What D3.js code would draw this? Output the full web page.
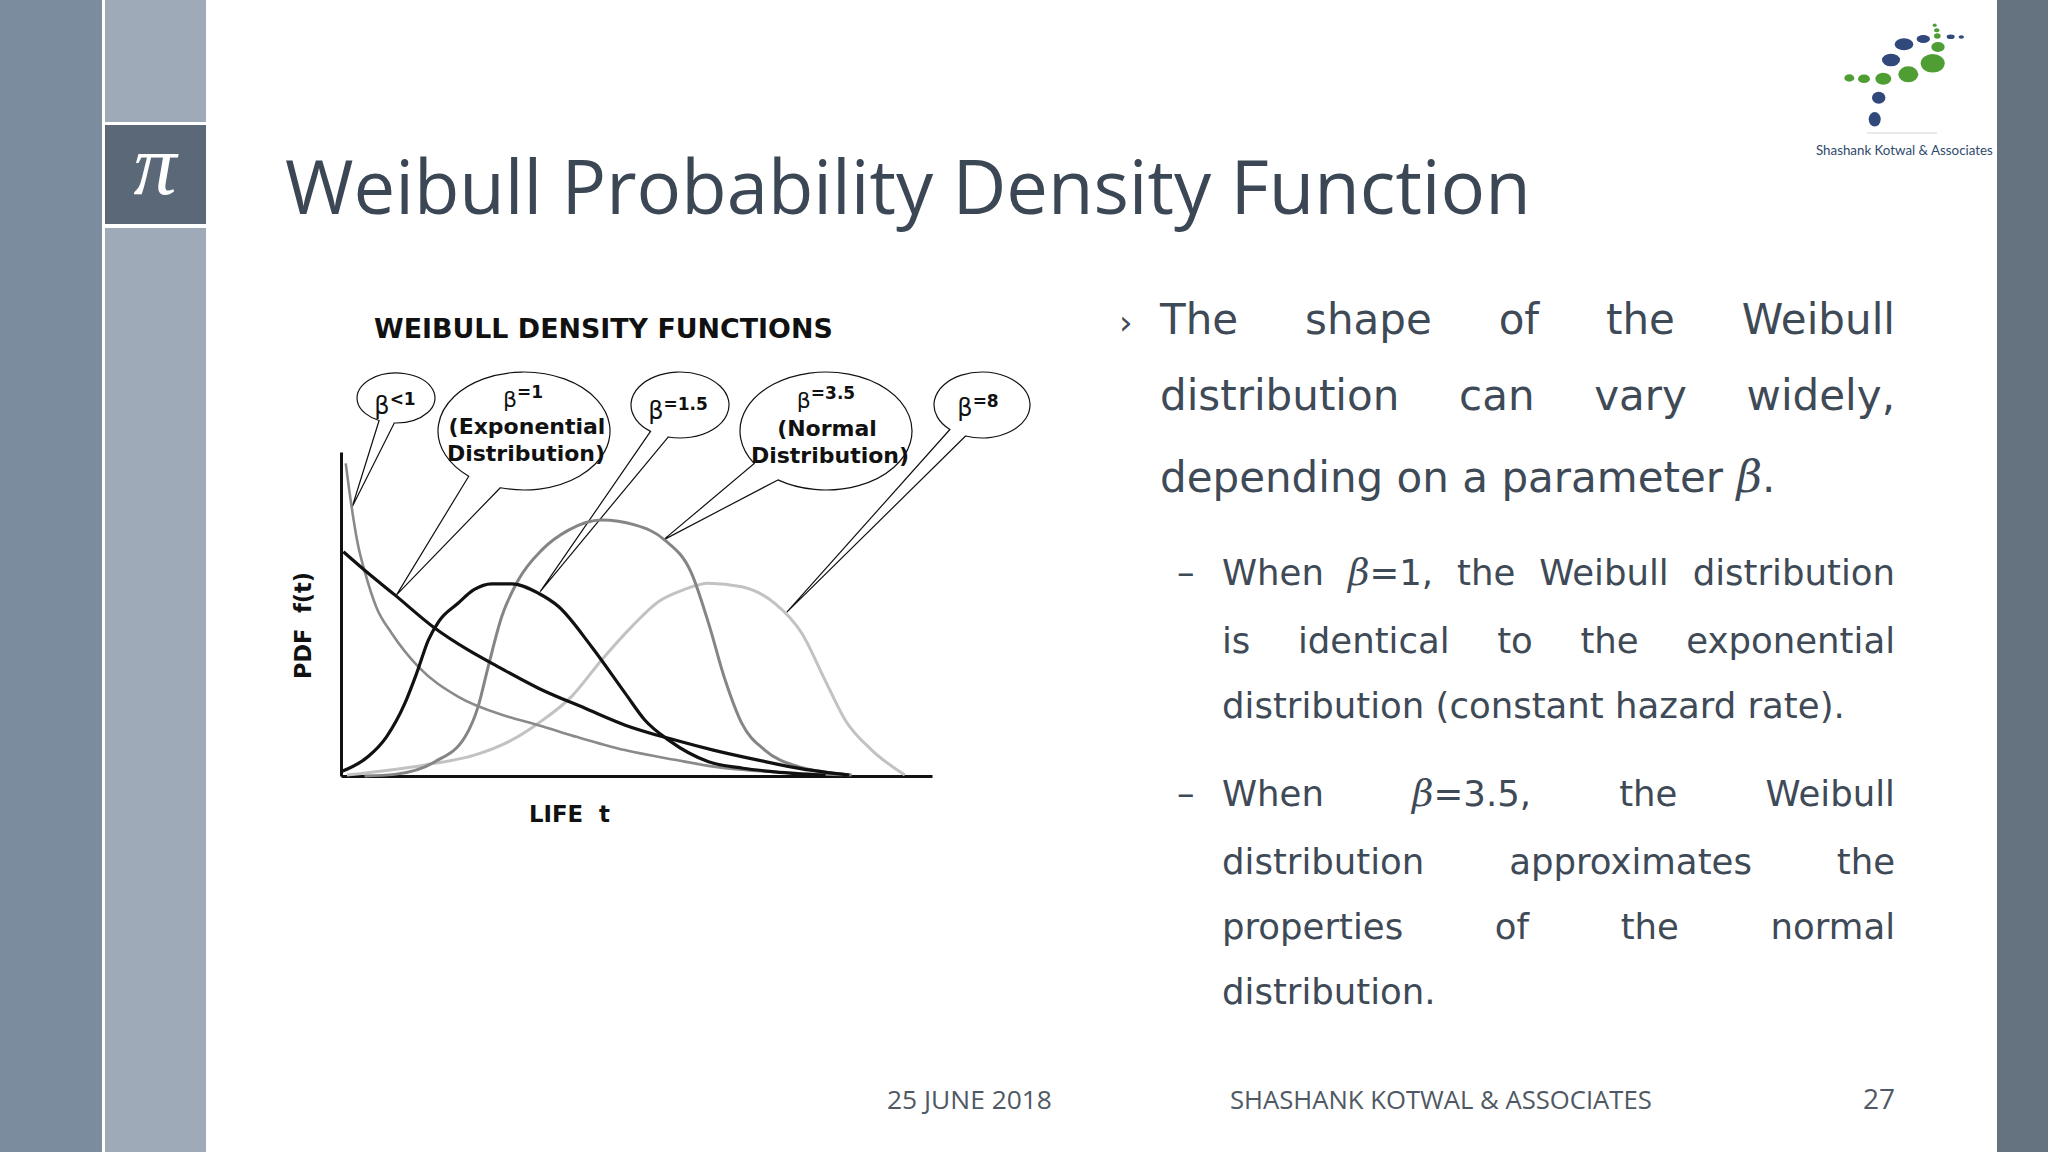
<!DOCTYPE html>
<html>
<head>
<meta charset="utf-8">
<script src="https://cdn.jsdelivr.net/npm/d3@7"></script>
<style>
  body { margin: 0; background: #fff; }
  svg { display: block; }
</style>
</head>
<body>
<div id="slide"></div>
<script>
// curves, [life t, pdf f(t)] on a 0..100 grid
const betaLt1 = [[0.8,96.5],[1.8,83],[2.8,72],[4.1,62.6],[6,52],[8.6,44],[13.1,33.7],[19.8,24.5],[28.3,18.3],[33.4,15.7],[40,12],[48,8],[56.5,5],[65,2.4],[75,1.1],[85,0.3]];
const beta1 = [[0.4,69.2],[4,63.5],[9.1,55.9],[15.9,45.6],[21.5,38.9],[26.6,33.7],[33.4,27.1],[41.3,20.9],[48.1,15.7],[56.5,11.1],[63,8],[70.6,4.9],[78,2.2],[86,0.3]];
const beta15 = [[0,1.3],[4.6,6],[7.7,12.1],[10.8,22.4],[12.8,31.7],[14.8,42],[16.5,47.6],[19.8,53.3],[22.5,57.5],[25.5,59.3],[28.9,59.3],[33.4,56.4],[36.8,52.3],[42.4,39.9],[48.1,25.5],[51.4,17.3],[55.5,11],[62.2,4.4],[68,2.4],[73.4,1.3],[82,0.2]];
const beta35 = [[4,0],[9.1,0.5],[15.9,4.4],[21,12.1],[23.2,21.4],[24.9,33.7],[27.2,49.2],[30,60.5],[34,69.8],[38.5,75.9],[44.1,79],[49.7,77.5],[54.8,72.8],[59.3,62.6],[62.2,47.1],[65,29.6],[67.8,16.3],[71.7,8],[77.4,2.9],[86.4,0.3]];
const beta8 = [[1,0.3],[14.2,3.4],[22.7,6.5],[28.9,11.1],[33.4,16.3],[39,24.5],[44.1,35.8],[49.2,46.1],[53.7,53.8],[58,57.5],[62.2,59.5],[67.8,58.4],[73.4,53.3],[78,44],[81.9,29.6],[85.3,17.3],[89.8,8],[95.4,0.3]];

const curveLabels = ["β<1", "β=1", "β=1.5", "β=3.5", "β=8"];
// where each callout points to, [life t, pdf f(t)]
const calloutTips = [[1.9,83.1],[9.4,55.9],[33.7,56.9],[54.5,72.8],[75.4,50.5]];

const bulletMain = [
  "The shape of the Weibull",
  "distribution can vary widely,",
  "depending on a parameter β."
];
const bulletSub1 = [
  "When β=1, the Weibull distribution",
  "is identical to the exponential",
  "distribution (constant hazard rate)."
];
const bulletSub2 = [
  "When β=3.5, the Weibull",
  "distribution approximates the",
  "properties of the normal",
  "distribution."
];

const W = 2048, H = 1152;
const svg = d3.select("#slide").append("svg").attr("width", W).attr("height", H);

// ---- slide frame
svg.append("rect").attr("x", 0).attr("y", 0).attr("width", 102).attr("height", H).attr("fill", "#7b8c9e");
svg.append("rect").attr("x", 105).attr("y", 0).attr("width", 101).attr("height", H).attr("fill", "#9eaab7");
svg.append("rect").attr("x", 105).attr("y", 122).attr("width", 101).attr("height", 106).attr("fill", "#fff");
svg.append("rect").attr("x", 105).attr("y", 125).attr("width", 101).attr("height", 99).attr("fill", "#5b6877");
svg.append("text").attr("x", 155).attr("y", 194).attr("text-anchor", "middle")
  .attr("font-family", "Liberation Serif").attr("font-style", "italic")
  .attr("font-size", 86).attr("fill", "#fff").text("π");
svg.append("rect").attr("x", 1997).attr("y", 0).attr("width", 51).attr("height", H).attr("fill", "#65727f");

function fitText(sel, width) {
  const w = sel.node().getComputedTextLength();
  const fs = +sel.attr("font-size");
  sel.attr("font-size", fs * width / w);
  return sel;
}

// ---- title
fitText(svg.append("text").attr("x", 285).attr("y", 214)
  .attr("font-family", "Open Sans").attr("font-weight", 400)
  .attr("font-size", 86).attr("fill", "#3b4754")
  .text("Weibull Probability Density Function"), 1246);

// ---- logo
const logoNavy = "#30497a", logoGreen = "#4f9e34";
const logoDots = [
  [1904,44.3,9.3,6,logoNavy],[1923.3,39,6.7,4,logoNavy],[1950.7,36.7,4,2.3,logoNavy],[1961.3,37,2.7,1.7,logoNavy],
  [1891,60,9,6.3,logoNavy],[1878.7,97.7,6.7,6,logoNavy],[1874.7,119.3,6,7.3,logoNavy],
  [1934.7,25.3,2,1.7,logoGreen],[1936.7,30.3,2.7,2,logoGreen],[1937.3,36,3.3,2.7,logoGreen],[1938,47,6.7,5,logoGreen],
  [1932.7,63.3,12,9.3,logoGreen],[1908.3,74.3,10,8,logoGreen],[1883.3,78.7,8,6,logoGreen],[1864,78.7,6,4.3,logoGreen],[1849.3,78,5,3.7,logoGreen]
];
svg.append("g").selectAll("ellipse").data(logoDots).join("ellipse")
  .attr("cx", d => d[0]).attr("cy", d => d[1]).attr("rx", d => d[2]).attr("ry", d => d[3]).attr("fill", d => d[4]);
svg.append("line").attr("x1", 1867).attr("x2", 1937).attr("y1", 133).attr("y2", 133).attr("stroke", "#e2e2e2").attr("stroke-width", 1.5);
fitText(svg.append("text").attr("x", 1816).attr("y", 155)
  .attr("font-family", "Lato").attr("font-size", 14).attr("fill", "#2f4a6b")
  .text("Shashank Kotwal & Associates"), 177);

// ---- chart
const x = d3.scaleLinear().domain([0, 100]).range([341, 932]);
const y = d3.scaleLinear().domain([0, 100]).range([776, 452]);
const chart = svg.append("g").attr("class", "chart");

fitText(chart.append("text").attr("x", 374).attr("y", 338)
  .attr("font-family", "DejaVu Sans").attr("font-weight", "bold")
  .attr("font-size", 27).attr("fill", "#111")
  .text("WEIBULL DENSITY FUNCTIONS"), 459);

// callout bubbles (geometry in px), pointing at calloutTips
const bubbles = [
  { cx: 396, cy: 398, rx: 39, ry: 25, a1: 92.5, a2: 115.7,
    lines: [{ beta: true, sup: "<1", x: 395, y: 414 }] },
  { cx: 524, cy: 431, rx: 86, ry: 59, a1: 106, a2: 130,
    lines: [{ beta: true, sup: "=1", x: 523, y: 407 }, { txt: "(Exponential", x: 527, y: 434 }, { txt: "Distribution)", x: 526, y: 461 }] },
  { cx: 680, cy: 405, rx: 49, ry: 33, a1: 104, a2: 127,
    lines: [{ beta: true, sup: "=1.5", x: 678, y: 419 }] },
  { cx: 826, cy: 431, rx: 86, ry: 59, a1: 124, a2: 146.5,
    lines: [{ beta: true, sup: "=3.5", x: 826, y: 408 }, { txt: "(Normal", x: 827, y: 436 }, { txt: "Distribution)", x: 830, y: 463 }] },
  { cx: 982, cy: 405, rx: 48, ry: 33, a1: 110, a2: 132,
    lines: [{ beta: true, sup: "=8", x: 978, y: 416 }] }
];

bubbles.forEach((b, i) => {
  const pt = a => [b.cx + b.rx * Math.cos(a * Math.PI / 180), b.cy + b.ry * Math.sin(a * Math.PI / 180)];
  const p1 = pt(b.a1), p2 = pt(b.a2);
  const tip = [x(calloutTips[i][0]), y(calloutTips[i][1])];
  const path = `M${p1[0]},${p1[1]}L${tip[0]},${tip[1]}L${p2[0]},${p2[1]}A${b.rx},${b.ry} 0 1 1 ${p1[0]},${p1[1]}Z`;
  const g = chart.append("g").attr("class", "bubble").attr("aria-label", curveLabels[i]);
  g.append("path").attr("d", path).attr("fill", "#fff").attr("stroke", "#111").attr("stroke-width", 1.2);
  b.lines.forEach(l => {
    const t = g.append("text").attr("x", l.x).attr("y", l.y).attr("text-anchor", "middle")
      .attr("font-family", "DejaVu Sans").attr("fill", "#111");
    if (l.beta) {
      t.append("tspan").attr("font-size", l.y < 410 ? 22 : 24).text("β");
      t.append("tspan").attr("font-size", 17).attr("font-weight", "bold").attr("dy", -9).text(l.sup);
    } else {
      t.attr("font-size", 22).attr("font-weight", "bold").text(l.txt);
    }
  });
});

// axes
chart.append("g").attr("transform", "translate(0,776)")
  .call(d3.axisBottom(x).ticks(0).tickSizeOuter(0))
  .call(g => g.select(".domain").attr("stroke", "#111").attr("stroke-width", 3));
chart.append("g").attr("transform", "translate(341,0)")
  .call(d3.axisLeft(y).ticks(0).tickSizeOuter(0))
  .call(g => g.select(".domain").attr("stroke", "#111").attr("stroke-width", 3));

const series = [
  { data: beta8, color: "#c2c2c2", w: 3 },
  { data: beta35, color: "#858585", w: 3 },
  { data: betaLt1, color: "#8a8a8a", w: 2.6 },
  { data: beta15, color: "#111", w: 3.2 },
  { data: beta1, color: "#111", w: 3.2 }
];
const line = d3.line().x(d => x(d[0])).y(d => y(d[1])).curve(d3.curveMonotoneX);
chart.selectAll("path.curve").data(series).join("path")
  .attr("class", "curve")
  .attr("fill", "none")
  .attr("stroke", d => d.color)
  .attr("stroke-width", d => d.w)
  .attr("stroke-linejoin", "round")
  .attr("d", d => line(d.data));

fitText(chart.append("text").attr("transform", "translate(311,679) rotate(-90)")
  .attr("font-family", "DejaVu Sans").attr("font-weight", "bold")
  .attr("font-size", 22).attr("fill", "#111").attr("xml:space", "preserve")
  .text("PDF  f(t)"), 107);
fitText(chart.append("text").attr("x", 529).attr("y", 822)
  .attr("font-family", "DejaVu Sans").attr("font-weight", "bold")
  .attr("font-size", 22).attr("fill", "#111").attr("xml:space", "preserve")
  .text("LIFE  t"), 81);

// ---- bullet text, justified like the slide
const textColor = "#3f4a57";
function drawLines(lines, x0, x1, baselines, fs) {
  const g = svg.append("g");
  lines.forEach((ln, i) => {
    const words = ln.split(" ");
    const last = i === lines.length - 1;
    const nodes = words.map(wd => {
      const t = g.append("text").attr("y", baselines[i]).attr("font-family", "DejaVu Sans")
        .attr("font-size", fs).attr("fill", textColor);
      wd.split(/(β)/).filter(s => s.length).forEach(s => {
        const ts = t.append("tspan").text(s);
        if (s === "β") ts.attr("font-family", "DejaVu Serif").attr("font-style", "italic").attr("font-size", fs * 1.05);
      });
      return t;
    });
    const widths = nodes.map(n => n.node().getComputedTextLength());
    const sum = d3.sum(widths);
    const gap = last ? fs * 0.318 : (x1 - x0 - sum) / (words.length - 1);
    let cx = x0;
    nodes.forEach((n, k) => { n.attr("x", cx); cx += widths[k] + gap; });
  });
}
svg.append("text").attr("x", 1119).attr("y", 334).attr("font-family", "DejaVu Sans")
  .attr("font-size", 34).attr("fill", textColor).text("›");
drawLines(bulletMain, 1160, 1895, [334, 410, 492], 42);
svg.append("text").attr("x", 1177).attr("y", 585).attr("font-family", "DejaVu Sans")
  .attr("font-size", 35).attr("fill", textColor).text("–");
drawLines(bulletSub1, 1222, 1895, [585, 653, 718], 35.5);
svg.append("text").attr("x", 1177).attr("y", 806).attr("font-family", "DejaVu Sans")
  .attr("font-size", 35).attr("fill", textColor).text("–");
drawLines(bulletSub2, 1222, 1895, [806, 874, 939, 1004], 35.5);

// ---- footer
const footColor = "#4f5963";
fitText(svg.append("text").attr("x", 887).attr("y", 1109).attr("font-family", "Open Sans")
  .attr("font-size", 28).attr("fill", footColor).text("25 JUNE 2018"), 165);
fitText(svg.append("text").attr("x", 1230).attr("y", 1109).attr("font-family", "Open Sans")
  .attr("font-size", 28).attr("fill", footColor).text("SHASHANK KOTWAL & ASSOCIATES"), 422);
svg.append("text").attr("x", 1895).attr("y", 1109).attr("text-anchor", "end").attr("font-family", "Open Sans")
  .attr("font-size", 28).attr("fill", footColor).text("27");
</script>
</body>
</html>
